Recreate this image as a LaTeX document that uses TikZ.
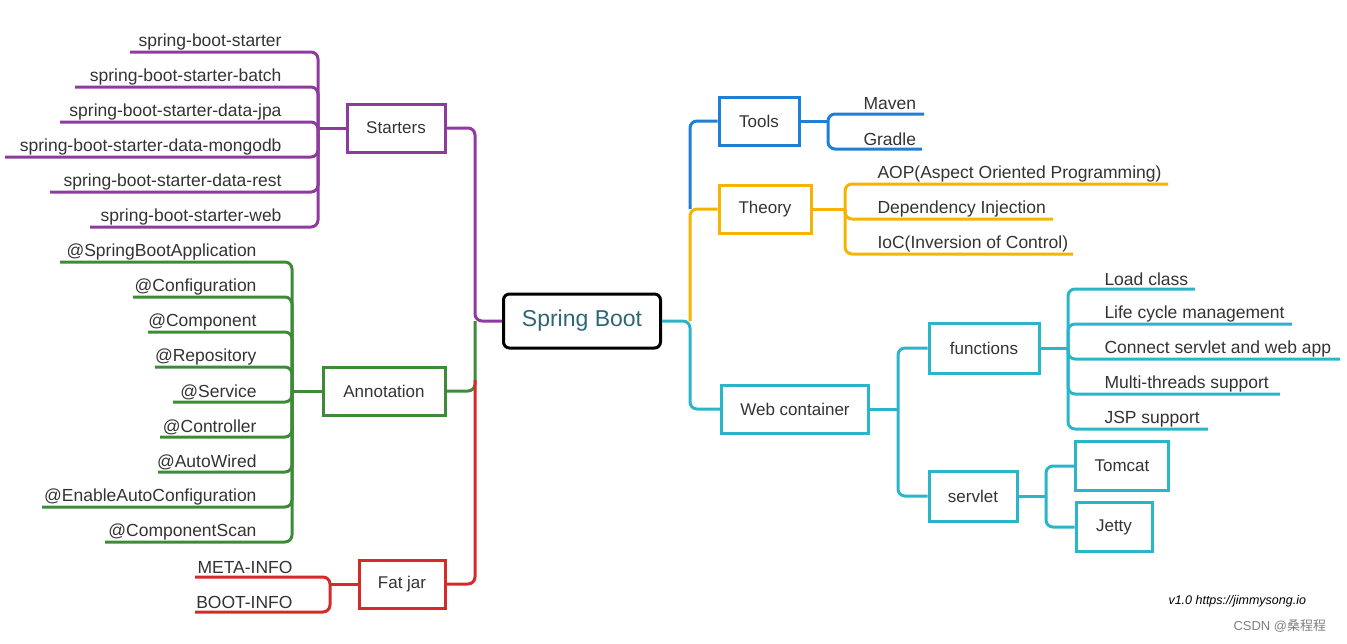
\documentclass[tikz,border=0pt]{standalone}
\usepackage{fontspec}
\setmainfont{Liberation Sans}
\newfontfamily\cjk{Noto Sans CJK SC}
\definecolor{cP}{HTML}{8E3A9E}\definecolor{cG}{HTML}{3D8B37}\definecolor{cR}{HTML}{D62A2A}
\definecolor{cB}{HTML}{1E7FD4}\definecolor{cO}{HTML}{F5B400}\definecolor{cT}{HTML}{2BB5C9}
\definecolor{txt}{HTML}{333333}\definecolor{sbt}{HTML}{2F6675}
\begin{document}
\begin{tikzpicture}[x=1pt,y=-1pt,line width=3pt,
  box/.style={draw,line width=3pt,minimum height=48pt,inner sep=0pt,text=txt,font=\fontsize{17}{20}\selectfont},
  lf/.style={text=txt,font=\fontsize{17.5}{20}\selectfont,inner sep=0pt},
  rc/.style={rounded corners=7pt}]
\useasboundingbox (0,0) rectangle (1347,643);
\node[box,draw=black,rounded corners=6pt,minimum width=157pt,minimum height=54pt,text=sbt,font=\fontsize{23}{27}\selectfont] (sb) at (582,321) {Spring Boot};
% left boxes
\node[box,draw=cP,minimum width=98pt] (st) at (396,128) {Starters};
\node[box,draw=cG,minimum width=122pt] (an) at (384,391) {Annotation};
\node[box,draw=cR,minimum width=86pt] (fj) at (402,584) {Fat jar};
\draw[cP,rc] (st.east) -- (475,128) -- (475,321) -- (sb.west);
\draw[cG,rc] (an.east) -- (475,391) -- (475,321);
\draw[cR,rc] (fj.east) -- (475,584) -- (475,380);
% starters leaves
\foreach \t/\y/\s in {spring-boot-starter/42/130,spring-boot-starter-batch/77/75,spring-boot-starter-data-jpa/112/60,spring-boot-starter-data-mongodb/147/5,spring-boot-starter-data-rest/182/50,spring-boot-starter-web/217/90}{
  \node[lf,anchor=east] at (283,\y) {\t};
  \draw[cP,rc] (\s,\y+10) -- (318,\y+10) -- (318,128);}
\draw[cP] (318,128) -- (st.west);
\foreach \t/\y/\s in {@SpringBootApplication/252/60,@Configuration/287/133,@Component/322/148,@Repository/357/155,@Service/392/173,@Controller/427/160,@AutoWired/462/158,@EnableAutoConfiguration/497/42,@ComponentScan/532/105}{
  \node[lf,anchor=east] at (258,\y) {\t};
  \draw[cG,rc] (\s,\y+10) -- (292,\y+10) -- (292,391);}
\draw[cG] (292,391) -- (an.west);
\foreach \t/\y in {META-INFO/567,BOOT-INFO/602}{
  \node[lf,anchor=east] at (294,\y) {\t};
  \draw[cR,rc] (195,\y+10) -- (330,\y+10) -- (330,584);}
\draw[cR] (330,584) -- (fj.west);
% right
\node[box,draw=cB,minimum width=80pt] (to) at (759,121) {Tools};
\node[box,draw=cO,minimum width=92pt] (th) at (765,209) {Theory};
\node[box,draw=cT,minimum width=147pt] (wc) at (795,409) {Web container};
\draw[cT,rc] (sb.east) -- (690,321) -- (690,409) -- (wc.west);
\draw[cO,rc] (690,321) -- (690,209) -- (th.west);
\draw[cB,rc] (690,209) -- (690,121) -- (to.west);
\foreach \t/\y/\e in {Maven/104/924,Gradle/139/922}{
  \node[lf,anchor=west] at (862,\y) {\t};
  \draw[cB,rc] (\e,\y+10) -- (828,\y+10) -- (828,121);}
\draw[cB] (828,121) -- (to.east);
\foreach \t/\y/\e in {AOP(Aspect Oriented Programming)/174/1168,Dependency Injection/209/1053,IoC(Inversion of Control)/244/1073}{
  \node[lf,anchor=west] at (876,\y) {\t};
  \draw[cO,rc] (\e,\y+10) -- (845,\y+10) -- (845,209);}
\draw[cO] (845,209) -- (th.east);
\node[box,draw=cT,minimum width=110pt,minimum height=50pt] (fn) at (984,348) {functions};
\node[box,draw=cT,minimum width=88pt,minimum height=50pt] (sv) at (973,496) {servlet};
\draw[cT,rc] (fn.west) -- (898,348) -- (898,496) -- (sv.west);
\draw[cT] (898,409) -- (wc.east);
\foreach \t/\y/\e in {Load class/279/1195,Life cycle management/314/1292,Connect servlet and web app/349/1340,Multi-threads support/384/1280,JSP support/419/1208}{
  \node[lf,anchor=west] at (1103,\y) {\t};
  \draw[cT,rc] (\e,\y+10) -- (1068,\y+10) -- (1068,348);}
\draw[cT] (1068,348) -- (fn.east);
\node[box,draw=cT,minimum width=93pt,minimum height=49pt] (tc) at (1122,466) {Tomcat};
\node[box,draw=cT,minimum width=76pt,minimum height=49pt] (jt) at (1114,527) {Jetty};
\draw[cT,rc] (tc.west) -- (1046,466) -- (1046,527) -- (jt.west);
\draw[cT] (1046,496) -- (sv.east);
\node[anchor=west,inner sep=0pt,font=\itshape\fontsize{12.5}{15}\selectfont,text=black] (ver) at (1167,601) {v1.0 https://jimmysong.io};
\node[anchor=west,inner sep=0pt,font=\fontsize{13}{15}\selectfont,text=gray] (cs) at (1232,626) {CSDN @{\cjk 桑程程}};
\end{tikzpicture}
\end{document}
